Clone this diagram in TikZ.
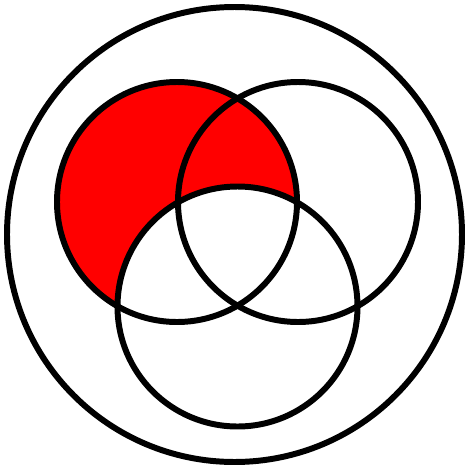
\documentclass[tikz,border=0pt]{standalone}
\usepackage{tikz}
\definecolor{setred}{HTML}{FF0000}

\begin{document}
\begin{tikzpicture}[x=0.02cm, y=-0.02cm,
  ring/.style={draw=black, line width=3.4pt},
]
\useasboundingbox (0,0) rectangle (474,474);
\fill[white] (0,0) rectangle (474,474);

% centres of the sets
\coordinate (U) at (234.5,234.5);
\coordinate (A) at (177,202);
\coordinate (B) at (298,202);
\coordinate (C) at (237.5,306.5);

% shaded region: A without C
\fill[setred] (A) circle (120);
\fill[white] (C) circle (120);

% outlines
\draw[ring] (U) circle (227.5);
\draw[ring] (A) circle (120);
\draw[ring] (B) circle (120);
\draw[ring] (C) circle (120);

\end{tikzpicture}
\end{document}
